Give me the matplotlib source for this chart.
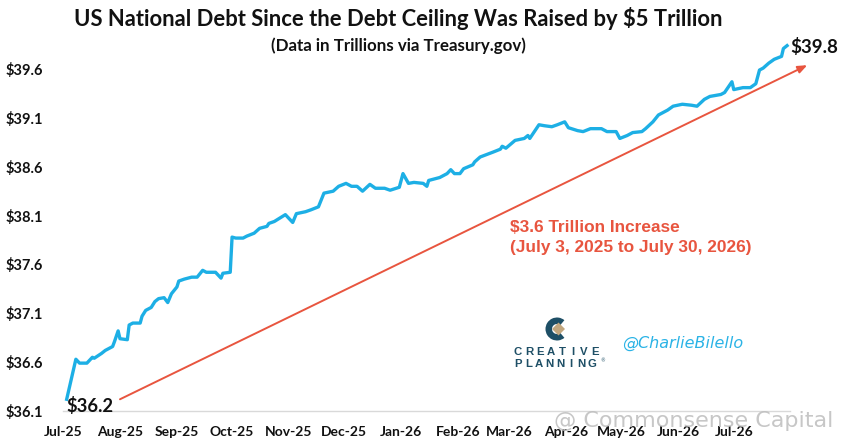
import matplotlib
matplotlib.use("Agg")
import matplotlib.pyplot as plt
import matplotlib.dates as mdates
from matplotlib.patches import Wedge, Polygon
import pandas as pd
import numpy as np

# ---------------- data ----------------
dates = ["2025-07-03", "2025-07-08", "2025-07-10", "2025-07-14", "2025-07-17", "2025-07-18",
         "2025-07-22", "2025-07-24", "2025-07-28", "2025-07-29", "2025-07-31", "2025-08-01",
         "2025-08-05", "2025-08-06", "2025-08-08", "2025-08-12", "2025-08-13", "2025-08-15",
         "2025-08-18", "2025-08-20", "2025-08-22", "2025-08-25", "2025-08-27", "2025-08-29",
         "2025-09-01", "2025-09-02", "2025-09-05", "2025-09-09", "2025-09-12", "2025-09-15",
         "2025-09-17", "2025-09-22", "2025-09-25", "2025-09-26", "2025-09-30", "2025-10-01",
         "2025-10-03", "2025-10-07", "2025-10-09", "2025-10-13", "2025-10-16", "2025-10-20",
         "2025-10-21", "2025-10-24", "2025-10-30", "2025-11-03", "2025-11-05", "2025-11-10",
         "2025-11-13", "2025-11-17", "2025-11-20", "2025-11-25", "2025-11-28", "2025-12-02",
         "2025-12-05", "2025-12-08", "2025-12-11", "2025-12-15", "2025-12-18", "2025-12-23",
         "2025-12-26", "2025-12-31", "2026-01-02", "2026-01-05", "2026-01-08", "2026-01-13",
         "2026-01-15", "2026-01-16", "2026-01-22", "2026-01-26", "2026-01-28", "2026-01-30",
         "2026-02-02", "2026-02-04", "2026-02-09", "2026-02-10", "2026-02-13", "2026-02-20",
         "2026-02-24", "2026-02-25", "2026-02-27", "2026-03-04", "2026-03-09", "2026-03-11",
         "2026-03-12", "2026-03-17", "2026-03-20", "2026-03-24", "2026-03-27", "2026-03-31",
         "2026-04-02", "2026-04-07", "2026-04-10", "2026-04-14", "2026-04-20", "2026-04-23",
         "2026-04-28", "2026-04-30", "2026-05-04", "2026-05-07", "2026-05-12", "2026-05-14",
         "2026-05-18", "2026-05-21", "2026-05-26", "2026-05-29", "2026-06-03", "2026-06-08",
         "2026-06-11", "2026-06-15", "2026-06-18", "2026-06-24", "2026-06-26", "2026-06-30",
         "2026-07-01", "2026-07-06", "2026-07-10", "2026-07-13", "2026-07-15", "2026-07-17",
         "2026-07-20", "2026-07-23", "2026-07-27", "2026-07-28", "2026-07-30"]
debt = [36.22, 36.63, 36.59, 36.59, 36.65, 36.64,
        36.69, 36.72, 36.76, 36.81, 36.92, 36.84,
        36.83, 36.98, 37.00, 37.00, 37.07, 37.13,
        37.16, 37.22, 37.25, 37.26, 37.21, 37.30,
        37.37, 37.43, 37.45, 37.47, 37.47, 37.54,
        37.52, 37.52, 37.46, 37.51, 37.52, 37.88,
        37.87, 37.87, 37.89, 37.92, 37.97, 37.99,
        38.02, 38.04, 38.11, 38.03, 38.12, 38.14,
        38.16, 38.19, 38.33, 38.35, 38.40, 38.43,
        38.40, 38.40, 38.35, 38.42, 38.38, 38.38,
        38.36, 38.39, 38.53, 38.43, 38.44, 38.43,
        38.40, 38.46, 38.49, 38.53, 38.57, 38.53,
        38.53, 38.58, 38.62, 38.65, 38.70, 38.75,
        38.78, 38.81, 38.79, 38.87, 38.89, 38.92,
        38.89, 39.03, 39.02, 39.01, 39.03, 39.06,
        39.00, 38.97, 38.96, 38.99, 38.99, 38.96,
        38.96, 38.89, 38.92, 38.95, 38.96, 38.99,
        39.06, 39.13, 39.18, 39.22, 39.24, 39.23,
        39.22, 39.29, 39.32, 39.34, 39.36, 39.47,
        39.39, 39.41, 39.41, 39.45, 39.59, 39.61,
        39.66, 39.70, 39.73, 39.81, 39.84]

y_ticks = [36.1, 36.6, 37.1, 37.6, 38.1, 38.6, 39.1, 39.6]
x_tick_months = ["2025-07-01", "2025-08-01", "2025-09-01", "2025-10-01", "2025-11-01",
                 "2025-12-01", "2026-01-01", "2026-02-01", "2026-03-01", "2026-04-01",
                 "2026-05-01", "2026-06-01", "2026-07-01"]
start_label = "$36.2"
end_label = "$39.8"
arrow_from = ("2025-08-01", 36.22)
arrow_to = ("2026-08-10", 39.64)
title = "US National Debt Since the Debt Ceiling Was Raised by $5 Trillion"
subtitle = "(Data in Trillions via Treasury.gov)"
note_lines = ["$3.6 Trillion Increase", "(July 3, 2025 to July 30, 2026)"]
logo_words = ["CREATIVE", "PLANNING"]
handle = "@CharlieBilello"
watermark = "@ Commonsense Capital"

# ---------------- figure ----------------
W, H = 841, 445
fig = plt.figure(figsize=(W / 100, H / 100), dpi=100)
fig.patch.set_facecolor("white")

def fx(px):
    return px / W

def fy(py):
    return 1 - py / H

ax = fig.add_axes([fx(63), fy(411), fx(790) - fx(63), fy(30) - fy(411)])

x = pd.to_datetime(dates)
BLUE = "#1DAFE5"
RED = "#E8553F"
ax.plot(x, debt, color=BLUE, lw=2.4, solid_joinstyle="round", zorder=3)

ax.set_ylim(36.1, 40.0)
x0 = x[0]
ax.set_xlim(x0, x0 + pd.Timedelta(days=393.6))

ax.set_yticks(y_ticks)
ax.set_yticklabels([f"${v:.1f}" for v in y_ticks])
ax.set_xticks(pd.to_datetime(x_tick_months))
ax.xaxis.set_major_formatter(mdates.DateFormatter("%b-%y"))

FONT = "Lato"
for lab in ax.get_yticklabels():
    lab.set_fontfamily(FONT)
    lab.set_fontweight("bold")
    lab.set_fontsize(10.5)
    lab.set_color("#111111")
for lab in ax.get_xticklabels():
    lab.set_fontfamily(FONT)
    lab.set_fontweight("bold")
    lab.set_fontsize(10)
    lab.set_color("#111111")

ax.tick_params(axis="y", length=0, pad=14.5)
ax.tick_params(axis="x", length=0, pad=11)
for s in ["top", "right", "left"]:
    ax.spines[s].set_visible(False)
ax.spines["bottom"].set_color("#D9D9D9")
ax.spines["bottom"].set_linewidth(1.0)

# end labels
ax.annotate(start_label, xy=(x[0], debt[0]), xytext=(0, -5), textcoords="offset points",
            ha="left", va="center", fontsize=13.2, fontfamily=FONT, fontweight="bold",
            color="#111111", zorder=4)
ax.annotate(end_label, xy=(x[-1], debt[-1]), xytext=(2.5, -1), textcoords="offset points",
            ha="left", va="center", fontsize=13.5, fontfamily=FONT, fontweight="bold",
            color="#111111", annotation_clip=False, zorder=4)

# red arrow
ax.annotate("", xy=(pd.Timestamp(arrow_to[0]), arrow_to[1]),
            xytext=(pd.Timestamp(arrow_from[0]), arrow_from[1]),
            arrowprops=dict(arrowstyle="-|>,head_length=0.55,head_width=0.22",
                            color=RED, lw=1.4, shrinkA=0, shrinkB=0),
            annotation_clip=False, zorder=2)

# red note
fig.text(fx(510), fy(227), note_lines[0], ha="left", va="center", color=RED,
         fontsize=12.4, fontfamily="Liberation Sans", fontweight="bold")
fig.text(fx(510), fy(248), note_lines[1], ha="left", va="center", color=RED,
         fontsize=12.4, fontfamily="Liberation Sans", fontweight="bold")

# titles
fig.text(fx(398.5), fy(18), title, ha="center", va="center", fontsize=15.8,
         fontfamily=FONT, fontweight="bold", color="#111111")
fig.text(fx(398), fy(46), subtitle, ha="center", va="center", fontsize=12.2,
         fontfamily=FONT, fontweight="bold", color="#111111")

# logo: Creative Planning
TEAL = "#1E4F66"
TAN = "#C2A77E"
lax = fig.add_axes([0, 0, 1, 1], facecolor="none")
lax.set_xlim(0, W)
lax.set_ylim(H, 0)
lax.axis("off")
cx, cy = 557, 329
lax.add_patch(Wedge((cx, cy), 11.5, 50, 310, width=6.5, facecolor=TEAL, edgecolor="none"))
lax.add_patch(Polygon([[cx - 5, cy], [cx + 1.5, cy - 6.5], [cx + 8, cy], [cx + 1.5, cy + 6.5]],
                      closed=True, facecolor=TAN, edgecolor="none"))
for word, yy, x_end in [(logo_words[0], 352, 600), (logo_words[1], 364, 597)]:
    xs = np.linspace(518, x_end - 5, len(word))
    for ch, xx in zip(word, xs):
        lax.text(xx, yy, ch, ha="center", va="center", fontsize=8.2,
                 fontfamily="Liberation Sans", fontweight="bold", color=TEAL)
lax.text(600, 361, "®", ha="left", va="center", fontsize=3.5, color=TEAL)

# handle
lax.text(683, 343, handle, ha="center", va="center", fontsize=11.5,
         fontfamily="DejaVu Sans", fontstyle="italic", color="#2AB3E6")

# watermark
lax.text(833, 421, watermark, ha="right", va="center", fontsize=16,
         fontfamily="DejaVu Sans", color="#BDBDBD", alpha=0.85)

fig.savefig("out.png", dpi=100, facecolor="white")
